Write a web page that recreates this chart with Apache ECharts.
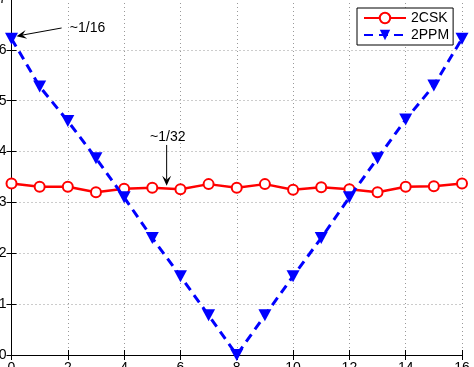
<!DOCTYPE html>
<html>
<head>
<meta charset="utf-8">
<script src="https://cdn.jsdelivr.net/npm/echarts@6/dist/echarts.min.js"></script>
<style>
html,body{margin:0;padding:0;background:#fff;}
#c{width:474px;height:367px;}
</style>
</head>
<body>
<div id="c"></div>
<script>
var xValues = [0,1,2,3,4,5,6,7,8,9,10,11,12,13,14,15,16];
var csk = [3.37,3.31,3.31,3.20,3.27,3.29,3.26,3.36,3.29,3.36,3.25,3.30,3.26,3.20,3.31,3.32,3.37];
var ppm = [6.22,5.28,4.60,3.87,3.10,2.30,1.55,0.78,0.00,0.78,1.55,2.30,3.10,3.87,4.63,5.30,6.22];
var xTicks = [0,2,4,6,8,10,12,14,16];
var yTicks = [0,1,2,3,4,5,6,7];
var seriesNames = ['2CSK','2PPM'];
var ann1 = {text:'~1/16', from:[1.78,6.43], to:[0.18,6.27], label:[2.07,6.42]};
var ann2 = {text:'~1/32', from:[5.51,4.13], to:[5.51,3.33], label:[5.55,4.29]};

var FONT = '"Liberation Sans", Arial, Helvetica, sans-serif';
var chart = echarts.init(document.getElementById('c'), null, {renderer:'canvas'});

function pairs(ys){ return xValues.map(function(x,i){ return [x, ys[i]]; }); }

var axisLabel = {fontFamily:FONT, fontSize:14, color:'#000'};
var splitLine = {show:true, lineStyle:{color:'#999', width:1, type:[1,3]}};

chart.setOption({
  animation:false,
  backgroundColor:'#fff',
  grid:{left:11.5, right:12, top:-1, bottom:12, containLabel:false, outerBoundsMode:'none'},
  xAxis:[{
    type:'value', min:xTicks[0], max:xTicks[xTicks.length-1], interval:2, position:'bottom',
    axisLine:{show:true, lineStyle:{color:'#000', width:1}},
    axisTick:{show:true, inside:true, length:5, lineStyle:{color:'#000'}},
    axisLabel:Object.assign({margin:6}, axisLabel),
    splitLine:splitLine
  },{
    type:'value', min:xTicks[0], max:xTicks[xTicks.length-1], interval:2, position:'top',
    axisLine:{show:true, lineStyle:{color:'#000', width:1}},
    axisTick:{show:true, inside:true, length:5, lineStyle:{color:'#000'}},
    axisLabel:{show:false}, splitLine:{show:false}
  }],
  yAxis:[{
    type:'value', min:yTicks[0], max:yTicks[yTicks.length-1], interval:1, position:'left',
    axisLine:{show:true, lineStyle:{color:'#000', width:1}},
    axisTick:{show:true, inside:true, length:5, lineStyle:{color:'#000'}},
    axisLabel:Object.assign({margin:5}, axisLabel),
    splitLine:splitLine
  },{
    type:'value', min:yTicks[0], max:yTicks[yTicks.length-1], interval:1, position:'right',
    axisLine:{show:true, lineStyle:{color:'#000', width:1}},
    axisTick:{show:true, inside:true, length:5, lineStyle:{color:'#000'}},
    axisLabel:{show:false}, splitLine:{show:false}
  }],
  legend:{
    orient:'vertical', left:357, top:8,
    backgroundColor:'#fff', borderColor:'#000', borderWidth:1, borderRadius:0,
    padding:[3,4,3,6], itemGap:3, itemWidth:42, itemHeight:13,
    textStyle:{fontFamily:FONT, fontSize:14, color:'#000'},
    data:seriesNames
  },
  series:[{
    name:seriesNames[0], type:'line', data:pairs(csk),
    xAxisIndex:0, yAxisIndex:0,
    symbol:'emptyCircle', symbolSize:10,
    itemStyle:{color:'#ff0000', borderWidth:2},
    lineStyle:{color:'#ff0000', width:2.5},
    z:3
  },{
    name:seriesNames[1], type:'line', data:pairs(ppm),
    xAxisIndex:0, yAxisIndex:0,
    symbol:'triangle', symbolRotate:180, symbolSize:[13,12],
    itemStyle:{color:'#0000ff'},
    lineStyle:{color:'#0000ff', width:3, type:[9,6]},
    z:4
  }]
});

function arrow(a){
  var p0 = chart.convertToPixel({gridIndex:0}, a.from);
  var p1 = chart.convertToPixel({gridIndex:0}, a.to);
  var pl = chart.convertToPixel({gridIndex:0}, a.label);
  var dx = p1[0]-p0[0], dy = p1[1]-p0[1];
  var L = Math.sqrt(dx*dx+dy*dy); var ux = dx/L, uy = dy/L;
  var nx = -uy, ny = ux;
  var hl = 10, hw = 4.5;
  var base = [p1[0]-ux*hl, p1[1]-uy*hl];
  var notch = [p1[0]-ux*hl*0.6, p1[1]-uy*hl*0.6];
  return [
    {type:'line', shape:{x1:p0[0], y1:p0[1], x2:notch[0], y2:notch[1]}, style:{stroke:'#000', lineWidth:1}, z:10},
    {type:'polygon', shape:{points:[[p1[0],p1[1]],[base[0]+nx*hw, base[1]+ny*hw],[notch[0],notch[1]],[base[0]-nx*hw, base[1]-ny*hw]]}, style:{fill:'#000'}, z:10},
    {type:'text', x:pl[0], y:pl[1], style:{text:a.text, fontFamily:FONT, fontSize:14, fill:'#000', align: a===ann2 ? 'center':'left', verticalAlign:'middle'}, z:10}
  ];
}
chart.setOption({graphic:{elements:arrow(ann1).concat(arrow(ann2))}});
</script>
</body>
</html>
